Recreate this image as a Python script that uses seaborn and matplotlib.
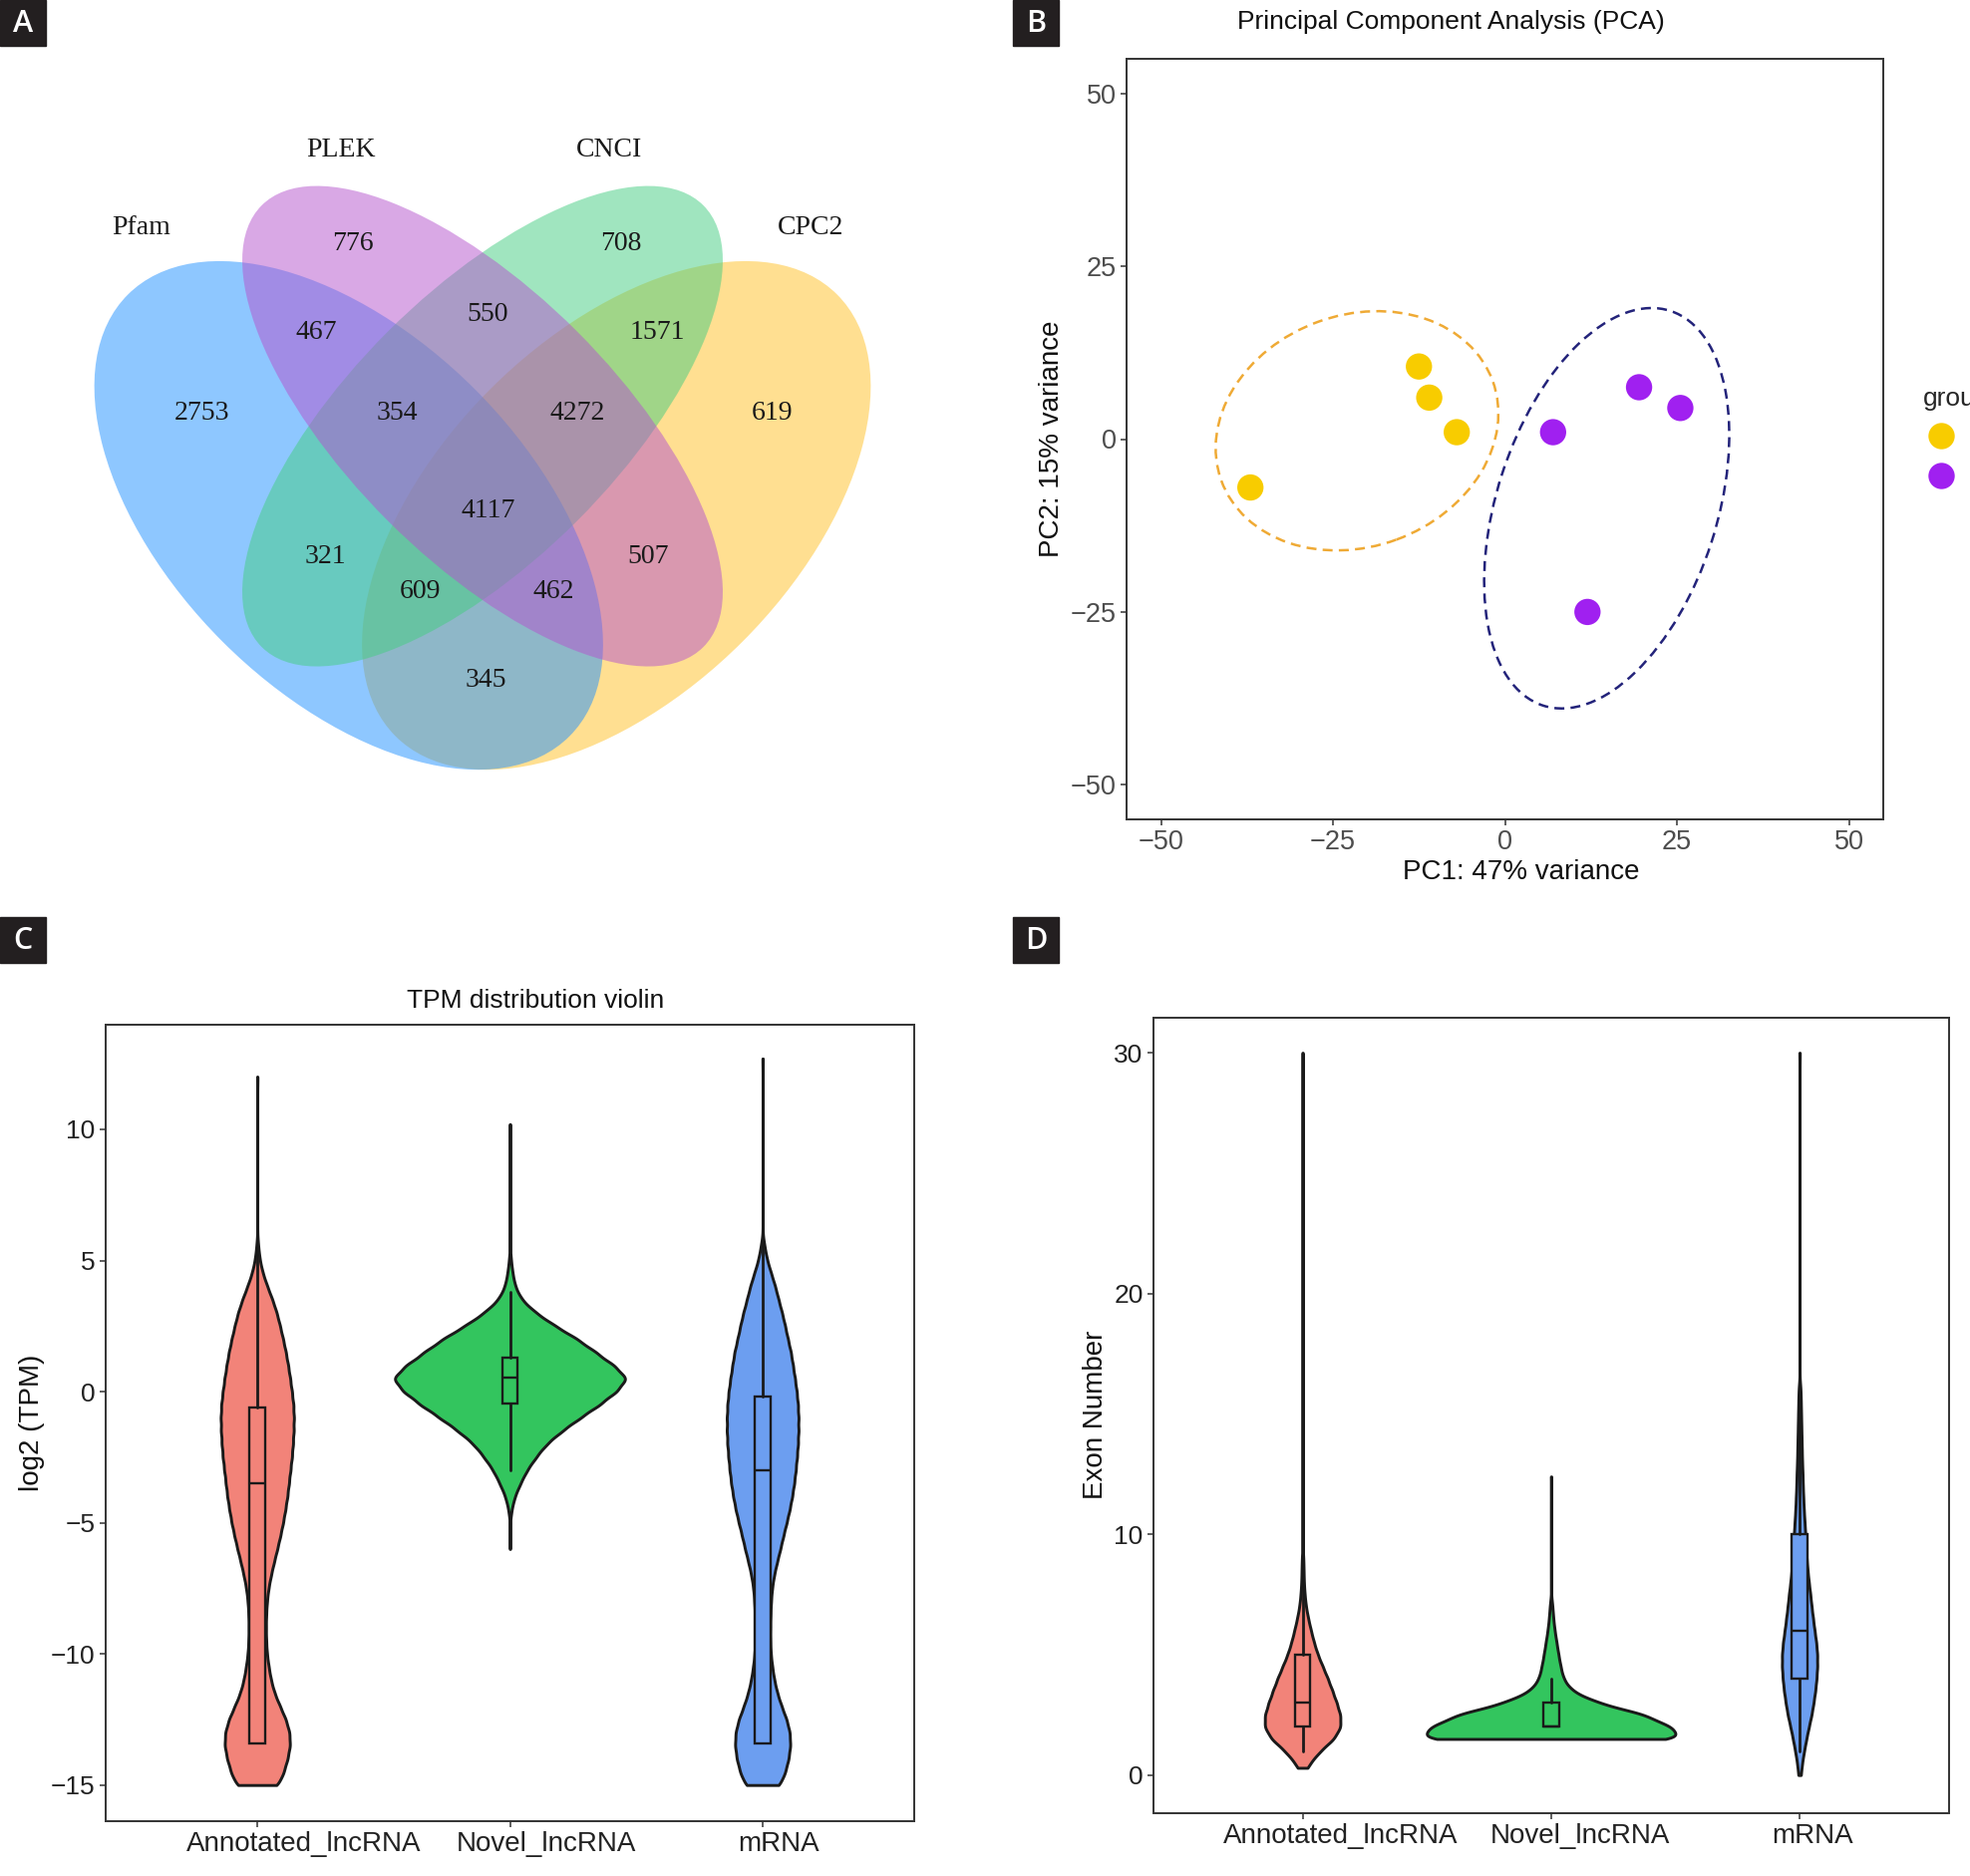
import numpy as np
import pandas as pd
import seaborn as sns
import matplotlib.pyplot as plt
from matplotlib.patches import Ellipse, Rectangle
from matplotlib.transforms import Affine2D

# ---- A: Venn diagram of coding-potential tools ----
venn_names = ['Pfam', 'PLEK', 'CNCI', 'CPC2']
venn_colors = ['#1E90FF', '#B452CD', '#43CD80', '#FFC125']
venn_counts = [2753, 776, 708, 619, 467, 550, 1571, 354, 4272, 4117, 321, 507, 609, 462, 345]

# ---- B: PCA ----
pc1 = [-37, -12.5, -11, -7, 7, 19.5, 25.5, 12]
pc2 = [-7, 10.5, 6, 1, 1, 7.5, 4.5, -25]
pca_group = ['G1', 'G1', 'G1', 'G1', 'G2', 'G2', 'G2', 'G2']
pca_colors = ['#F8CC00', '#A020F0']
ellipse_center = [(-21.5, 1.2), (14.8, -10.0)]
ellipse_size = [(42, 33.5), (60, 32)]
ellipse_angle = [20, 72]
ellipse_colors = ['#EFAA35', '#23237A']

# ---- C/D: violins, half-widths (category units), step 0.5 ----
rna_types = ['Annotated_lncRNA', 'Novel_lncRNA', 'mRNA']
violin_colors = ['#F28379', '#33C55E', '#6C9EF0']

tpm_annot_start = -15.0
tpm_annot_w = [0.085, 0.105, 0.12, 0.13, 0.128, 0.113, 0.09, 0.068, 0.054, 0.045,
               0.038, 0.035, 0.034, 0.035, 0.038, 0.044, 0.054, 0.066, 0.079, 0.091,
               0.102, 0.111, 0.119, 0.125, 0.131, 0.137, 0.141, 0.144, 0.145, 0.143,
               0.137, 0.13, 0.122, 0.113, 0.102, 0.09, 0.077, 0.06, 0.04, 0.022,
               0.01, 0.004]
tpm_annot_tail = [12.0]
tpm_novel_start = -4.5
tpm_novel_w = [0.006, 0.018, 0.04, 0.065, 0.1, 0.14, 0.2, 0.27, 0.345, 0.41,
               0.455, 0.40, 0.33, 0.26, 0.175, 0.1, 0.045, 0.02, 0.01, 0.004]
tpm_novel_tail = [-6.0, 10.2]
tpm_mrna_start = -15.0
tpm_mrna_w = [0.07, 0.09, 0.103, 0.11, 0.108, 0.095, 0.075, 0.058, 0.046, 0.038,
              0.032, 0.03, 0.03, 0.031, 0.033, 0.037, 0.045, 0.057, 0.07, 0.082,
              0.095, 0.107, 0.117, 0.125, 0.131, 0.136, 0.14, 0.142, 0.142, 0.14,
              0.135, 0.128, 0.12, 0.112, 0.1, 0.089, 0.077, 0.063, 0.05, 0.034,
              0.018, 0.008]
tpm_mrna_tail = [12.7]

exon_annot_start = 0.5
exon_annot_w = [0.03, 0.07, 0.125, 0.152, 0.15, 0.135, 0.118, 0.1, 0.08, 0.06,
                0.045, 0.033, 0.022, 0.013, 0.008, 0.005, 0.004, 0.003]
exon_annot_tail = [0.3, 30.0]
exon_novel_start = 1.5
exon_novel_w = [0.5, 0.44, 0.35, 0.17, 0.075, 0.045, 0.035, 0.027, 0.02, 0.013, 0.008, 0.005]
exon_novel_tail = [12.4]
exon_mrna_start = 0.0
exon_mrna_w = [0.005, 0.01, 0.018, 0.027, 0.037, 0.048, 0.056, 0.063, 0.068, 0.071,
               0.071, 0.067, 0.06, 0.054, 0.048, 0.043, 0.037, 0.032, 0.028, 0.025,
               0.023, 0.02, 0.017, 0.015, 0.013, 0.012, 0.01, 0.009, 0.008, 0.007,
               0.006, 0.005, 0.004]
exon_mrna_tail = [30.0]

# box stats: q1, median, q3, lower whisker, upper whisker
tpm_box = [(-13.4, -3.5, -0.6, -13.4, 12.0), (-0.45, 0.55, 1.3, -3.0, 3.8), (-13.4, -3.0, -0.2, -13.4, 12.7)]
exon_box = [(2, 3, 5, 1, 9.5), (2, 2, 3, 2, 4), (4, 6, 10, 1, 19)]

sns.set_theme(style='white')
plt.rcParams['font.family'] = ['Liberation Sans', 'DejaVu Sans']

W, H = 1976, 1882
fig = plt.figure(figsize=(W / 100, H / 100), dpi=100)


def frame(ax, tick_color, size=19):
    for sp in ax.spines.values():
        sp.set_visible(True)
        sp.set_color('#333333')
        sp.set_linewidth(1.4)
    ax.tick_params(direction='out', length=4.5, width=1.1, color='#333333',
                   labelcolor=tick_color, labelsize=size, pad=3, bottom=True, left=True)


def fixed_bw(kde):
    return 0.28 / kde.dataset.std(ddof=1)


def violin_panel(ax, profiles, boxes):
    for name, color, (start, widths, tails) in zip(rna_types, violin_colors, profiles):
        levels = start + 0.5 * np.arange(len(widths))
        counts = np.round(np.array(widths) * 1000).astype(int)
        vals = np.concatenate([np.repeat(levels, counts), tails])
        df = pd.DataFrame({'type': name, 'value': vals})
        sns.violinplot(data=df, x='type', y='value', order=rna_types, color=color, saturation=1,
                       density_norm='width', cut=0, inner=None, width=2 * max(widths),
                       bw_method=fixed_bw, gridsize=400, linewidth=2.1, linecolor='#1a1a1a', ax=ax)
    stats = [dict(q1=b[0], med=b[1], q3=b[2], whislo=b[3], whishi=b[4], fliers=[]) for b in boxes]
    bp = ax.bxp(stats, positions=[0, 1, 2], widths=0.062, patch_artist=True, showfliers=False,
                showcaps=False, manage_ticks=False, zorder=3,
                boxprops=dict(linewidth=1.7, edgecolor='#1a1a1a'),
                whiskerprops=dict(linewidth=2.0, color='#1a1a1a'),
                medianprops=dict(linewidth=1.7, color='#1a1a1a'))
    for patch, c in zip(bp['boxes'], violin_colors):
        patch.set_facecolor(c)
    ax.set_xlim(-0.6, 2.6)
    ax.set_xlabel('')
    frame(ax, '#222222')
    ax.tick_params(axis='x', labelsize=20)


# ---- panel letters ----
for letter, (x0, y0) in zip('ABCD', [(0, 0), (1016, 0), (0, 920), (1016, 920)]):
    fig.add_artist(Rectangle((x0 / W, 1 - (y0 + 46) / H), 46 / W, 46 / H,
                             transform=fig.transFigure, color='#231F20'))
    fig.text((x0 + 23) / W, 1 - (y0 + 24) / H, letter, color='white', ha='center', va='center',
             fontsize=22, family='Open Sans', weight='semibold')

# ---- A ----
axA = fig.add_axes([36.5 / W, 1 - 937.7 / H, 895 / W, 895 / H])
axA.set_xlim(0, 1)
axA.set_ylim(0, 1)
axA.axis('off')
venn_shapes = [(0.35, 0.47, 0.70, 0.40, 135), (0.5, 0.57, 0.70, 0.30, 135),
               (0.5, 0.57, 0.70, 0.30, 45), (0.65, 0.47, 0.70, 0.40, 45)]
for i in [3, 0, 2, 1]:
    x, y, w, h, a = venn_shapes[i]
    axA.add_patch(Ellipse((x, y), w, h, angle=a, facecolor=venn_colors[i], alpha=0.5, edgecolor='none'))
name_pos = [(0.117, 0.792), (0.341, 0.879), (0.642, 0.879), (0.868, 0.792)]
for name, (x, y) in zip(venn_names, name_pos):
    axA.text(x, y, name, ha='center', va='center', fontsize=20, family='Liberation Serif', color='#1a1a1a')
count_pos = [(0.186, 0.585), (0.355, 0.775), (0.655, 0.775), (0.825, 0.585), (0.314, 0.675),
             (0.506, 0.695), (0.696, 0.675), (0.404, 0.585), (0.606, 0.585), (0.506, 0.475),
             (0.324, 0.424), (0.686, 0.424), (0.430, 0.385), (0.580, 0.385), (0.504, 0.285)]
for n, (x, y) in zip(venn_counts, count_pos):
    axA.text(x, y, str(n), ha='center', va='center', fontsize=20, family='Liberation Serif', color='#1a1a1a')

# ---- B ----
axB = fig.add_axes([1130 / W, 1 - 822 / H, 759 / W, 763 / H])
pca_df = pd.DataFrame({'PC1': pc1, 'PC2': pc2, 'group': pca_group})
sns.scatterplot(data=pca_df, x='PC1', y='PC2', hue='group', palette=pca_colors, s=360,
                edgecolor='none', ax=axB, zorder=3)
for (cx, cy), (w, h), ang, col in zip(ellipse_center, ellipse_size, ellipse_angle, ellipse_colors):
    axB.add_patch(Ellipse((cx, cy), w, h, angle=ang, fill=False, edgecolor=col,
                          linestyle=(0, (4, 2.5)), linewidth=1.8))
axB.set_xlim(-55, 55)
axB.set_ylim(-55, 55)
axB.set_xticks([-50, -25, 0, 25, 50])
axB.set_yticks([-50, -25, 0, 25, 50])
axB.set_xlabel('PC1: 47% variance', fontsize=20, color='#111111')
axB.set_ylabel('PC2: 15% variance', fontsize=20, color='#111111')
axB.xaxis.set_label_coords(0.522, -0.052)
frame(axB, '#4D4D4D', size=19.5)
fig.text(1455 / W, 1 - 22 / H, 'Principal Component Analysis (PCA)', ha='center', va='center',
         fontsize=19, color='#111111')
sns.move_legend(axB, 'upper left', bbox_to_anchor=(1918 / W, 1 - 377 / H),
                bbox_transform=fig.transFigure, frameon=False, title='group',
                fontsize=19, title_fontsize=19, alignment='left', borderaxespad=0,
                handlelength=1.4, labelspacing=0.6)
for hd in axB.get_legend().legend_handles:
    hd.set_markersize(19)

# ---- C ----
axC = fig.add_axes([106 / W, 1 - 1827 / H, 811 / W, 799 / H])
violin_panel(axC,
             [(tpm_annot_start, tpm_annot_w, tpm_annot_tail),
              (tpm_novel_start, tpm_novel_w, tpm_novel_tail),
              (tpm_mrna_start, tpm_mrna_w, tpm_mrna_tail)],
             tpm_box)
axC.set_ylim(-16.38, 13.99)
axC.set_yticks([-15, -10, -5, 0, 5, 10])
axC.set_ylabel('log2 (TPM)', fontsize=20, color='#111111')
fig.text(537 / W, 1 - 1004 / H, 'TPM distribution violin', ha='center', va='center',
         fontsize=19, color='#111111')

# ---- D ----
axD = fig.add_axes([1157 / W, 1 - 1818.5 / H, 797.6 / W, 797.7 / H])
violin_panel(axD,
             [(exon_annot_start, exon_annot_w, exon_annot_tail),
              (exon_novel_start, exon_novel_w, exon_novel_tail),
              (exon_mrna_start, exon_mrna_w, exon_mrna_tail)],
             exon_box)
axD.set_ylim(-1.565, 31.46)
axD.set_yticks([0, 10, 20, 30])
axD.set_ylabel('Exon Number', fontsize=20, color='#111111')

# category labels sit a little right of their ticks in the original
fig.canvas.draw()
for ax, frac in [(axC, 0.2), (axD, 0.16)]:
    for lab in ax.get_xticklabels():
        w = lab.get_window_extent().width
        lab.set_transform(lab.get_transform() + Affine2D().translate(frac * w, 0))

fig.savefig('out.png', dpi=100, facecolor='white')
